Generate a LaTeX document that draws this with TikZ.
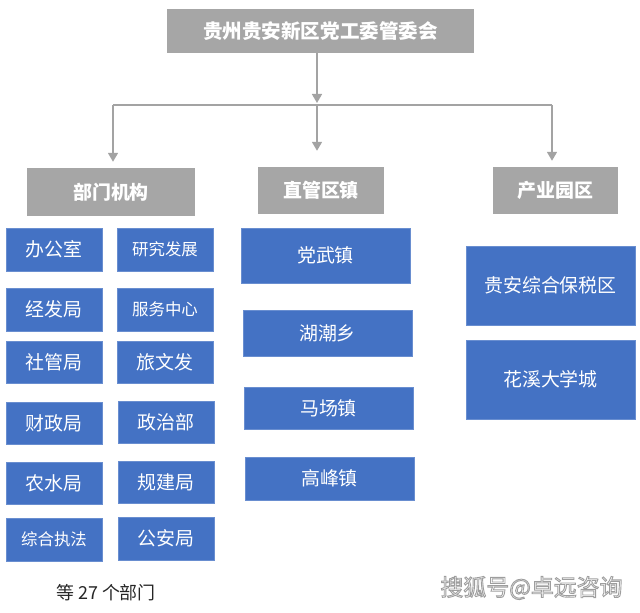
\documentclass[tikz,border=0pt]{standalone}
\usepackage{fontspec}
\setmainfont{Noto Sans CJK SC}
\usetikzlibrary{arrows.meta}
\definecolor{hdrgray}{HTML}{A6A6A6}
\definecolor{arrgray}{HTML}{A3A3A3}
\definecolor{boxblue}{HTML}{4472C4}
\tikzset{
  hdr/.style={fill=hdrgray, text=white, font=\fontsize{19}{22}\selectfont\bfseries, inner sep=0pt},
  bbox/.style={fill=boxblue, draw=boxblue!80!white, line width=0.6bp, text=white, inner sep=0pt, font=\fontsize{19}{22}\selectfont},
  sm/.style={font=\fontsize{16.5}{20}\selectfont},
  link/.style={draw=arrgray, line width=1.6bp},
  arr/.style={link, -{Triangle[width=10bp,length=9bp]}},
}
\newcommand{\outlinedtext}[1]{\special{pdf:literal direct 2 Tr 0.9 w 0.62 G}#1\special{pdf:literal direct 0 Tr}}
\begin{document}
\begin{tikzpicture}[x=1bp,y=-1bp]
\useasboundingbox (0,0) rectangle (640,613);
% top
\node[hdr, font=\fontsize{19.6}{22}\selectfont\bfseries, minimum width=307bp, minimum height=44bp] (top) at (320.5,31) {贵州贵安新区党工委管委会};
% headers
\node[hdr, minimum width=168bp, minimum height=48bp] (h1) at (111,192) {部门机构};
\node[hdr, minimum width=126bp, minimum height=47bp] (h2) at (321,190.5) {直管区镇};
\node[hdr, minimum width=125bp, minimum height=47bp] (h3) at (555.5,190.5) {产业园区};
% connectors
\coordinate (j) at (317,105);
\coordinate (hl) at (113,105);
\coordinate (hr) at (552,105);
\draw[link] (hl) -- (hr);
\draw[arr, shorten >=2bp] (top.south -| j) -- (j);
\draw[arr, shorten >=16bp] (j) -- (j |- h2.north);
\draw[arr, shorten >=6bp] (hl) -- (hl |- h1.north);
\draw[arr, shorten >=6bp] (hr) -- (hr |- h3.north);
% left column
\node[bbox, minimum width=96bp, minimum height=43bp] (a1) at (54,249.5) {办公室};
\node[bbox, sm, minimum width=96bp, minimum height=43bp] (b1) at (165,249.5) {研究发展};
\node[bbox, minimum width=96bp, minimum height=43bp] (a2) at (54,309.5) {经发局};
\node[bbox, sm, minimum width=96bp, minimum height=43bp] (b2) at (165,309.5) {服务中心};
\node[bbox, minimum width=96bp, minimum height=42bp] (a3) at (54,362.5) {社管局};
\node[bbox, minimum width=96bp, minimum height=42bp] (b3) at (165,362) {旅文发};
\node[bbox, minimum width=96bp, minimum height=42bp] (a4) at (54,423) {财政局};
\node[bbox, minimum width=96bp, minimum height=42bp] (b4) at (166,422) {政治部};
\node[bbox, minimum width=96bp, minimum height=42bp] (a5) at (54,483) {农水局};
\node[bbox, minimum width=96bp, minimum height=42bp] (b5) at (166,482) {规建局};
\node[bbox, sm, minimum width=96bp, minimum height=43bp] (a6) at (54,539.5) {综合执法};
\node[bbox, minimum width=96bp, minimum height=43bp] (b6) at (166,538.5) {公安局};
\node[text=black!85, font=\fontsize{18}{21}\selectfont, inner sep=0pt] (more) at (106,593) {等 27 个部门};
% middle column
\node[bbox, minimum width=169bp, minimum height=55bp] (m1) at (325.5,255.5) {党武镇};
\node[bbox, minimum width=169bp, minimum height=46bp] (m2) at (327.5,333) {湖潮乡};
\node[bbox, minimum width=169bp, minimum height=42bp] (m3) at (328.5,408) {马场镇};
\node[bbox, minimum width=169bp, minimum height=43bp] (m4) at (329.5,478.5) {高峰镇};
% right column
\node[bbox, minimum width=169bp, minimum height=79bp] (r1) at (550.5,285.5) {贵安综合保税区};
\node[bbox, minimum width=169bp, minimum height=79bp] (r2) at (550.5,379.5) {花溪大学城};
% watermark
\node[text=white, font=\fontsize{23}{26}\selectfont, inner sep=0pt] (wm) at (531.5,588) {\outlinedtext{搜狐号@卓远咨询}};
\end{tikzpicture}
\end{document}
